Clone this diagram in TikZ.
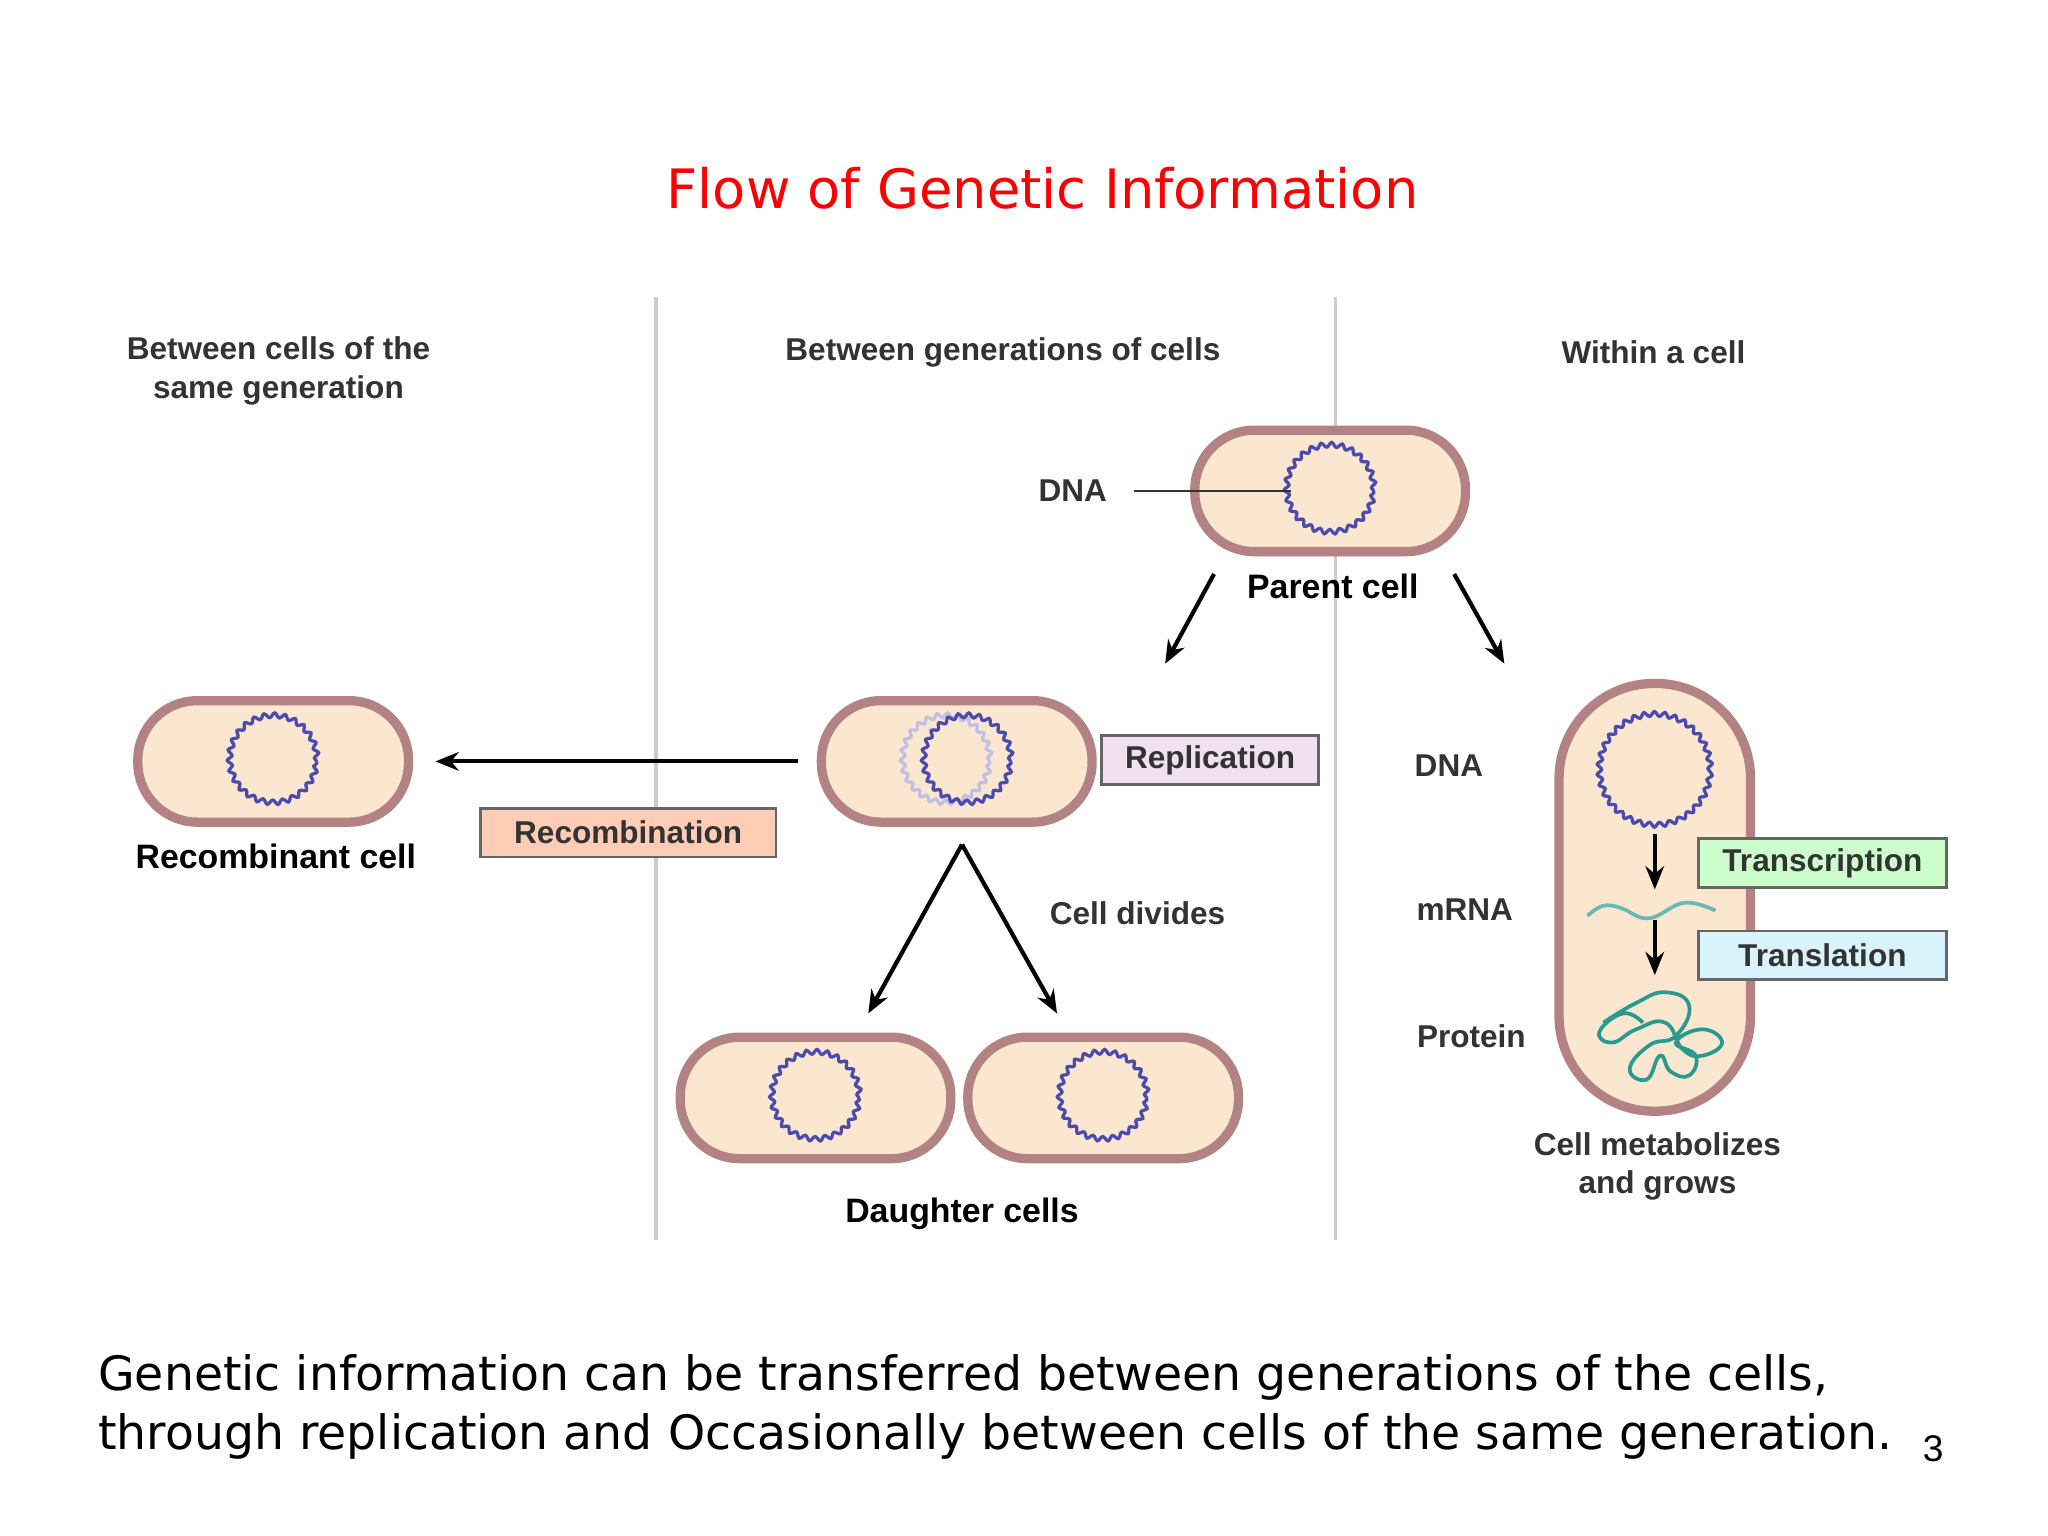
\documentclass[tikz,border=0pt]{standalone}
\usepackage{fontspec}
\setmainfont{Liberation Sans}
\newfontfamily\titlefont{DejaVu Sans}
\usetikzlibrary{decorations.pathmorphing,arrows.meta}
\definecolor{peach}{HTML}{FBE6CF}
\definecolor{cellrim}{HTML}{B38383}
\definecolor{dnab}{HTML}{4A4AB0}
\definecolor{teal2}{HTML}{2A9A90}
\tikzset{
  cell/.style={draw=cellrim,fill=peach,line width=2pt,rounded corners=0.45cm,minimum width=2.05cm,minimum height=0.92cm,inner sep=0pt},
  dna/.style={draw=dnab,line width=0.7pt,decorate,decoration={snake,segment length=2.2pt,amplitude=0.5pt}},
  lab/.style={font=\fontsize{6.8}{8.3}\selectfont\bfseries,align=center,text=black!80},
  blab/.style={font=\fontsize{7.3}{9}\selectfont\bfseries,align=center},
  box/.style={draw=black!60,line width=0.6pt,minimum height=0.37cm,font=\fontsize{6.8}{8}\selectfont\bfseries,text=black!80,inner sep=0pt},
  arr/.style={-{Stealth[length=5pt,width=4pt]},line width=0.9pt},
  sep/.style={draw=black!20,line width=0.8pt}
}
\begin{document}
\begin{tikzpicture}[x=0.01cm,y=-0.01cm]
\useasboundingbox[fill=white] (0,0) rectangle (1552,1164);
\node[text=red,font=\titlefont\fontsize{11.7}{14}\selectfont] (title) at (790,143) {Flow of Genetic Information};
\coordinate (s1t) at (497,225); \coordinate (s1b) at (497,940);
\coordinate (s2t) at (1012,225); \coordinate (s2b) at (1012,940);
\draw[sep] (s1t) -- (s1b); \draw[sep] (s2t) -- (s2b);
\node[lab] (h1) at (211,281) {Between cells of the\\same generation};
\node[lab] (h2) at (760,267) {Between generations of cells};
\node[lab] (h3) at (1253,267) {Within a cell};
% parent
\node[cell] (parent) at (1008,372) {};
\draw[dna] (parent.center) circle (0.33cm);
\node[lab] (dnalab) at (813,372) {DNA};
\coordinate (dnaend) at (978,372);
\draw[black!80,line width=0.5pt] (dnalab.east)++(8,0) -- (dnaend);
\node[blab] (parentlab) at (1010,444) {Parent cell};
\coordinate (a1s) at (920,435); \coordinate (a1e) at (883,503);
\coordinate (a2s) at (1102,435); \coordinate (a2e) at (1140,503);
\draw[arr] (a1s) -- (a1e); \draw[arr] (a2s) -- (a2e);
% replication cell
\node[cell] (rep) at (725,577) {};
\draw[dna,draw=dnab!35] (717,577) circle (0.33cm);
\draw[dna] (733,577) circle (0.33cm);
\node[box,fill=violet!12,minimum width=1.64cm] (repbox) at (917,576) {Replication};
% recombinant
\node[cell] (recomb) at (207,577) {};
\draw[dna] (recomb.center) circle (0.33cm);
\node[blab] (recomblab) at (209,649) {Recombinant cell};
\coordinate (r1) at (605,577); \coordinate (r2) at (330,577);
\draw[arr] (r1) -- (r2);
\node[box,fill=orange!30!pink!60,minimum width=2.24cm] (recbox) at (476,631) {Recombination};
% divides
\coordinate (apex) at (729,640);
\coordinate (d1e) at (658,768); \coordinate (d2e) at (801,768);
\draw[arr] (apex) -- (d1e); \draw[arr] (apex) -- (d2e);
\node[lab] (divlab) at (862,692) {Cell divides};
\node[cell] (d1) at (618,832) {};
\node[cell] (d2) at (836,832) {};
\draw[dna] (d1.center) circle (0.33cm);
\draw[dna] (d2.center) circle (0.33cm);
\node[blab] (dlab) at (729,920) {Daughter cells};
% within a cell
\node[cell,minimum width=1.45cm,minimum height=3.24cm,rounded corners=0.72cm] (grow) at (1254,680) {};
\draw[dna] (1254,585) circle (0.42cm);
\node[lab] (wdna) at (1098,580) {DNA};
\node[lab] (wmrna) at (1110,689) {mRNA};
\node[lab] (wprot) at (1115,785) {Protein};
\coordinate (t1s) at (1254,632); \coordinate (t1e) at (1254,674);
\coordinate (t2s) at (1254,697); \coordinate (t2e) at (1254,739);
\draw[arr] (t1s) -- (t1e); \draw[arr] (t2s) -- (t2e);
\draw[teal2!70,line width=0.8pt] (1203,694) sin (1218,686) cos (1233,690) sin (1248,696) cos (1263,690) sin (1278,684) cos (1300,690);
\node[box,fill=green!20,minimum width=1.88cm] (trbox) at (1381,654) {Transcription};
\node[box,fill=cyan!15,minimum width=1.88cm] (tlbox) at (1381,724) {Translation};
\draw[teal2,line width=0.8pt,smooth,tension=0.8] plot coordinates {(1215,775) (1240,760) (1262,752) (1280,762) (1270,785) (1250,792) (1235,810) (1248,818) (1258,800) (1266,812) (1280,815) (1285,800) (1270,790) (1290,780) (1305,790) (1290,800) (1275,795) (1262,775) (1240,780) (1222,790) (1212,782) (1230,768) (1245,775)};
\node[lab] (metlab) at (1256,884) {Cell metabolizes\\and grows};
\node[font=\titlefont\fontsize{10.2}{12.8}\selectfont,align=left,anchor=north west] (bottom) at (62,1014) {Genetic information can be transferred between generations of the cells,\\through replication and Occasionally between cells of the same generation.};
\node[font=\fontsize{8}{9}\selectfont] (pg) at (1465,1098) {3};
\end{tikzpicture}
\end{document}
